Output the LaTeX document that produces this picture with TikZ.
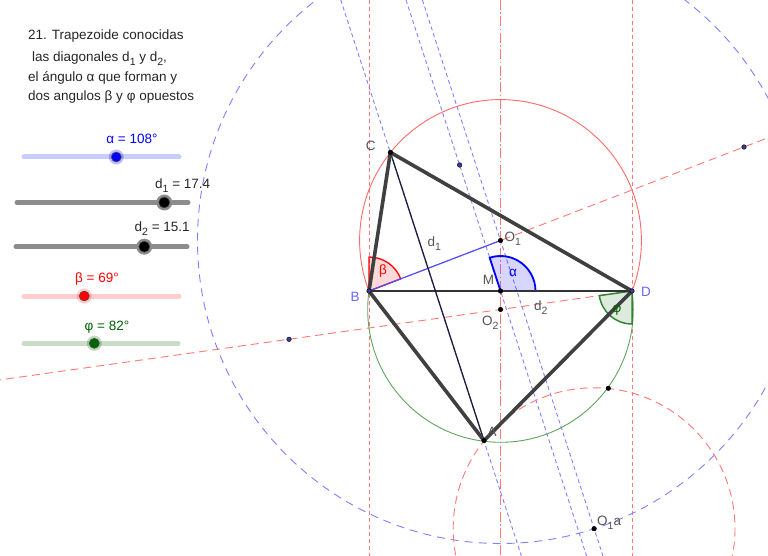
\documentclass[tikz,border=0pt]{standalone}
\usepackage{fontspec}
\setmainfont{Liberation Sans}
\definecolor{lred}{RGB}{255,120,120}
\definecolor{cred}{RGB}{255,105,105}
\definecolor{lblue}{RGB}{128,128,255}
\definecolor{segblue}{RGB}{80,80,255}
\definecolor{garc}{RGB}{95,165,95}
\definecolor{quad}{RGB}{64,64,64}
\definecolor{lbl}{RGB}{85,85,85}
\definecolor{ptlbl}{RGB}{102,102,255}
\definecolor{dgreen}{RGB}{0,100,0}
\definecolor{ptdark}{RGB}{60,60,150}
\newcommand{\sbx}[1]{\raisebox{-4pt}{\fontsize{10.5}{11}\selectfont #1}}
\tikzset{
  reddashS/.style={draw=lred, line width=1pt, dash pattern=on 4pt off 3pt},
  reddashL/.style={draw=lred, line width=0.9pt, dash pattern=on 8pt off 5pt},
  reddashdot/.style={draw=lred, line width=1pt, dash pattern=on 10pt off 2.5pt on 1.5pt off 2.5pt},
  bluedashS/.style={draw=lblue, line width=0.9pt, dash pattern=on 4pt off 3pt},
  bluedashL/.style={draw=lblue, line width=0.9pt, dash pattern=on 8pt off 6pt},
  quadline/.style={draw=quad, line width=3.6pt, line join=round, line cap=round},
  thindiag/.style={line width=1.3pt},
  ptblk/.style={circle, fill=black, draw=black, inner sep=0pt, minimum size=4.6pt},
  ptblu/.style={circle, fill=ptdark, draw=black, line width=0.4pt, inner sep=0pt, minimum size=4.6pt},
  lab/.style={text=lbl},
  track/.style={line width=5pt, line cap=round},
  txt/.style={text=black!85}
}
\begin{document}
\begin{tikzpicture}[x=1pt,y=-1pt, every node/.style={font=\fontsize{13.5}{16}\selectfont, inner sep=0pt}]
\useasboundingbox (0,0) rectangle (768,556);
\clip (0,0) rectangle (768,556);
\fill[white] (0,0) rectangle (768,556);

% key points
\coordinate (B) at (369,291);
\coordinate (D) at (632,291);
\coordinate (M) at (500.5,291);
\coordinate (O1) at (500.5,240.5);
\coordinate (O2) at (500.5,309.5);
\coordinate (C) at (390.4,152.4);
\coordinate (A) at (484,440.6);
\coordinate (O1a) at (594.1,528.7);
\coordinate (P1) at (459.6,165);
\coordinate (P2) at (744,147);
\coordinate (P3) at (289,339.3);
\coordinate (P4) at (608.3,388.3);

% line ends
\coordinate (Bt) at (369.6,0);   \coordinate (Bb) at (369.6,556);
\coordinate (Dt) at (632.6,0);   \coordinate (Db) at (632.6,556);
\coordinate (Mt) at (500.8,0); \coordinate (Mb) at (500.8,556);
\coordinate (CAt) at (340.8,0); \coordinate (CAb) at (521.4,556);
\coordinate (MLt) at (406.0,0); \coordinate (MLb) at (586.6,556);
\coordinate (OLt) at (422.4,0); \coordinate (OLb) at (603.0,556);
\coordinate (Rend) at (800,125.5);
\coordinate (Lend) at (-10,381.3);

% construction lines
\draw[reddashS] (Bt) -- (Bb);
\draw[reddashS] (Dt) -- (Db);
\draw[reddashdot] (Mt) -- (Mb);
\draw[bluedashS] (CAt) -- (CAb);
\draw[bluedashS] (MLt) -- (MLb);
\draw[bluedashS] (OLt) -- (OLb);
\draw[reddashL] (B) -- (Rend);
\draw[reddashL] (D) -- (Lend);
\draw[bluedashL] (O1) circle[radius=303];
\draw[reddashL] (O1a) circle[radius=140.9];

% arcs
\begin{scope}
  \clip (0,0) rectangle (768,291);
  \draw[cred, line width=0.9pt] (O1) circle[radius=140.9];
\end{scope}
\begin{scope}
  \clip (0,291) rectangle (768,556);
  \draw[garc, line width=0.9pt] (O2) circle[radius=132.8];
\end{scope}

% angle wedges
\filldraw[draw=red, fill=red, fill opacity=0.15, line width=1.3pt] (B) -- +(-21:34) arc[start angle=-21, end angle=-90, radius=34] -- cycle;
\filldraw[draw=blue, fill=blue, fill opacity=0.16, line width=1.8pt] (M) -- +(0:35) arc[start angle=0, end angle=-108, radius=35] -- cycle;
\filldraw[draw=dgreen!80, fill=dgreen, fill opacity=0.13, line width=1.5pt] (D) -- +(90:33) arc[start angle=90, end angle=172, radius=33] -- cycle;

% segments
\draw[segblue, line width=1.2pt] (B) -- (O1);
\draw[thindiag, draw=black!80] (B) -- (D);
\draw[thindiag, draw={rgb,255:red,30;green,30;blue,60}] (C) -- (A);
\draw[quadline] (B) -- (C) -- (D) -- (A) -- cycle;

% points
\node[ptblk] (nC) at (C) {};
\node[ptblk] (nA) at (A) {};
\node[ptblk] (nM) at (M) {};
\node[ptblk] (nO1) at (O1) {};
\node[ptblk] (nO2) at (O2) {};
\node[ptblk] (nO1a) at (O1a) {};
\node[ptblk] (nP4) at (P4) {};
\node[ptblu] (nB) at (B) {};
\node[ptblu] (nD) at (D) {};
\node[ptblu] (nP1) at (P1) {};
\node[ptblu] (nP2) at (P2) {};
\node[ptblu] (nP3) at (P3) {};

% labels
\node[lab] (lC) at (370.7,146) {C};
\node[text=ptlbl] (lB) at (355,297) {B};
\node[text=ptlbl] (lD) at (646,292) {D};
\node[lab] (lA) at (492,432) {A};
\node[lab] (lM) at (488.5,280) {M};
\node[lab, anchor=base west] (lO1) at (504.5,241) {O\sbx{1}};
\node[lab, anchor=base west] (lO2) at (482,325) {O\sbx{2}};
\node[lab, anchor=base west] (ld1) at (427.5,246.5) {d\sbx{1}};
\node[lab, anchor=base west] (ld2) at (534,310) {d\sbx{2}};
\node[lab, anchor=base west] (lO1a) at (597,525.5) {O\sbx{1}a};
\node[text=blue] (la) at (513,273) {α};
\node[text=red] (lb) at (383,271) {β};
\node[text=dgreen] (lf) at (617,310) {φ};

% title
\node[txt, anchor=base west] (t1) at (28,39.3) {21. Trapezoide conocidas};
\node[txt, anchor=base west] (t2) at (32,61.7) {las diagonales d\sbx{1} y d\sbx{2},};
\node[txt, anchor=base west] (t3) at (28,81.7) {el ángulo α que forman y};
\node[txt, anchor=base west] (t4) at (28,100.5) {dos angulos β y φ opuestos};

% sliders
\draw[track, draw={rgb,255:red,200;green,204;blue,255}] (24,157) -- (179,157);
\fill[blue, opacity=0.25] (116.3,157) circle[radius=7.5];
\filldraw[fill=blue, draw=black!70, line width=0.6pt] (116.3,157) circle[radius=5];
\node[text=blue, anchor=base] (sa) at (132,144) {α = 108°};

\draw[track, draw=black!45] (17,202.5) -- (188,202.5);
\fill[black!45] (164.3,202.5) circle[radius=8];
\filldraw[fill=black, draw=black!70, line width=0.6pt] (164.3,202.5) circle[radius=5.5];
\node[text=black!85, anchor=base west] (sd1) at (155,188.5) {d\sbx{1} = 17.4};

\draw[track, draw=black!45] (16,246.7) -- (187,246.7);
\fill[black!45] (144.3,246.7) circle[radius=8];
\filldraw[fill=black, draw=black!70, line width=0.6pt] (144.3,246.7) circle[radius=5.5];
\node[text=black!85, anchor=base west] (sd2) at (134.5,232) {d\sbx{2} = 15.1};

\draw[track, draw={rgb,255:red,255;green,205;blue,205}] (24,296) -- (179,296);
\fill[red, opacity=0.2] (84.3,296) circle[radius=7.5];
\filldraw[fill=red, draw=black!70, line width=0.6pt] (84.3,296) circle[radius=5];
\node[text=red, anchor=base west] (sb) at (75,282) {β = 69°};

\draw[track, draw={rgb,255:red,200;green,222;blue,200}] (24,343.3) -- (178,343.3);
\fill[dgreen, opacity=0.25] (94.3,343.3) circle[radius=7.5];
\filldraw[fill=dgreen, draw=black!70, line width=0.6pt] (94.3,343.3) circle[radius=5];
\node[text=dgreen, anchor=base west] (sf) at (84.5,330.5) {φ = 82°};
\end{tikzpicture}
\end{document}
